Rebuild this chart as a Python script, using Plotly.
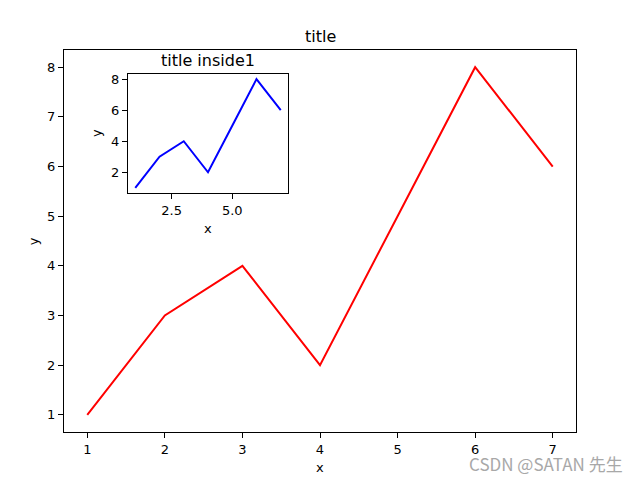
import plotly.graph_objects as go

x_vals = [1, 2, 3, 4, 5, 6, 7]
y_vals = [1, 3, 4, 2, 5, 8, 6]

main_x_ticks = [1, 2, 3, 4, 5, 6, 7]
main_y_ticks = [1, 2, 3, 4, 5, 6, 7, 8]
inset_x_ticks = [2.5, 5.0]
inset_x_labels = ["2.5", "5.0"]
inset_y_ticks = [2, 4, 6, 8]

FONT = "DejaVu Sans"

fig = go.Figure()
fig.add_trace(go.Scatter(x=x_vals, y=y_vals, mode="lines",
                         line=dict(color="red", width=2), xaxis="x", yaxis="y"))
fig.add_trace(go.Scatter(x=x_vals, y=y_vals, mode="lines",
                         line=dict(color="blue", width=2), xaxis="x2", yaxis="y2"))

axis_style = dict(showline=True, linecolor="black", linewidth=1, mirror=True,
                  ticks="outside", ticklen=5, tickcolor="black", showgrid=False,
                  zeroline=False, tickfont=dict(family=FONT, size=13, color="black"))


def label(text, x, y, size=13, angle=0, **kw):
    return dict(text=text, x=x, y=y, xref="paper", yref="paper", showarrow=False,
                xanchor=kw.pop("xanchor", "center"), yanchor="middle", textangle=angle,
                font=dict(family=kw.pop("family", FONT), size=size,
                          color=kw.pop("color", "black")))


fig.update_layout(
    width=640, height=480,
    margin=dict(l=0, r=0, t=0, b=0),
    paper_bgcolor="white", plot_bgcolor="white",
    showlegend=False,
    xaxis=dict(domain=[0.1, 0.9], range=[0.7, 7.3], tickvals=main_x_ticks,
               anchor="y", **axis_style),
    yaxis=dict(domain=[0.1, 0.9], range=[0.65, 8.35], tickvals=main_y_ticks,
               anchor="x", **axis_style),
    xaxis2=dict(domain=[0.2, 0.45], range=[0.7, 7.3], tickvals=inset_x_ticks,
                ticktext=inset_x_labels, anchor="y2", **axis_style),
    yaxis2=dict(domain=[0.6, 0.85], range=[0.65, 8.35], tickvals=inset_y_ticks,
                anchor="x2", **axis_style),
    annotations=[
        label("title", 0.5, 0.928, size=16),
        label("title inside1", 0.325, 0.878, size=16),
        label("x", 0.5, 0.027),
        label("y", 0.052, 0.5, angle=-90),
        label("x", 0.325, 0.527),
        label("y", 0.151, 0.725, angle=-90),
        label("CSDN @SATAN 先生", 0.977, 0.034, size=17, xanchor="right",
              family="Noto Sans CJK SC", color="#a8a8a8"),
    ],
)

fig.write_html("out.html", config={"displayModeBar": False},
               post_script="document.body.style.margin='0';")
